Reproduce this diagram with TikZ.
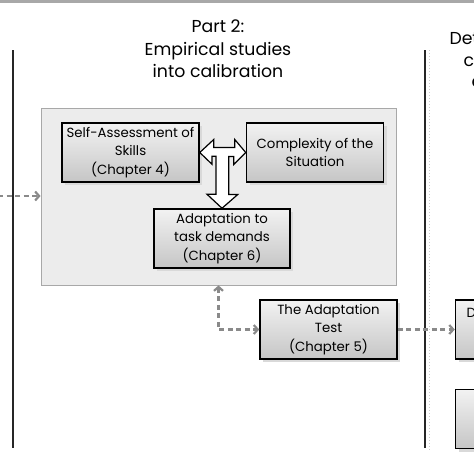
\documentclass[tikz,border=0pt]{standalone}
\usepackage{fontspec}
\setmainfont{Poppins}
\usepackage{xcolor}
\usepackage{tikz}
\usetikzlibrary{arrows.meta, positioning, shadows, calc}
\definecolor{calgray}{HTML}{8A8A8A}
\definecolor{calpanel}{HTML}{ECECEC}
\definecolor{calframe}{HTML}{A8A8A8}

\begin{document}
\begin{tikzpicture}[
    x=1pt, y=-1pt,
    node distance=27pt and 46pt,
    >={Straight Barb[length=4pt,width=9pt]},
    chbox/.style={draw=black,line width=1.5pt,minimum width=137pt,minimum height=59pt,align=center,inner xsep=1pt,
      font=\fontsize{13.3}{18.5}\selectfont,top color=gray!10,bottom color=gray!45,
      general shadow={fill=gray!30,shadow xshift=3pt,shadow yshift=-3pt}},
    panel/.style={draw=calframe,line width=0.8pt,fill=calpanel,minimum width=355pt,minimum height=177pt},
    ttl/.style={align=center,font=\fontsize{17.3}{22.5}\selectfont},
    dasharr/.style={draw=calgray,line width=2.2pt,dash pattern=on 5pt off 3.5pt},
    divider/.style={draw=black!85,line width=1.2pt},
  ]
    \useasboundingbox (0,0) rectangle (474,474);
    \clip (0,0) rectangle (474,474);
    \fill[calframe] (0,0) rectangle (474,3);

    % column dividers
    \draw[divider] (13,50) -- (13,448);
    \draw[divider] (425,50) -- (425,448);
    \draw[gray!40,dotted,line width=1pt] (429.5,50) -- (429.5,450);

    % titles
    \node[ttl] (part2) at (218,49) {Part 2:\\Empirical studies\\into calibration};
    \node[ttl,anchor=base west] (part3a) at (446,44) {Det};
    \node[ttl,anchor=base west] (part3b) at (460,66) {c};
    \node[ttl,anchor=base west] (part3c) at (468,87) {e};

    % calibration studies
    \node[panel] (cont) at (218.5,196.5) {};
    \node[chbox] (selfass) at (130.5,152.5) {Self-Assessment of\\Skills\\(Chapter 4)};
    \node[chbox, right=of selfass] (complex) {Complexity of the\\Situation};
    \node[chbox, minimum width=136pt] (adapt) at (222,238.5) {Adaptation to\\task demands\\(Chapter 6)};
    \node[chbox] (test) at (328.5,329.5) {The Adaptation\\Test\\(Chapter 5)};

    % next part (cut off)
    \node[chbox, right=57pt of test] (nextA) {};
    \node[chbox, below=29pt of nextA] (nextB) {};
    \node[anchor=base west,font=\fontsize{13.3}{18.5}\selectfont] (nextAlbl) at (463,317) {D};

    % block arrows
    \draw[line width=1.2pt,fill=white,line join=miter]
      (selfass.east) -- ++(14,-13) -- ++(0,8) -- ++(21,0) -- ++(0,-8) -- (complex.west)
      -- ++(-12,12) -- ++(0,-8) -- ++(-5,0) -- ++(0,38) -- ++(9,0) -- (adapt.north)
      -- ++(-15,-14) -- ++(9,0) -- ++(0,-38) -- ++(-4,0) -- ++(0,8) -- cycle;

    % dashed links
    \coordinate (inL) at (-2,196);
    \draw[dasharr,->] (inL) -- (cont.west |- inL);
    \draw[dasharr,<->] (cont.south) |- (test.west);
    \draw[dasharr,->] (test.east) -- (nextA.west);
  \end{tikzpicture}
\end{document}
